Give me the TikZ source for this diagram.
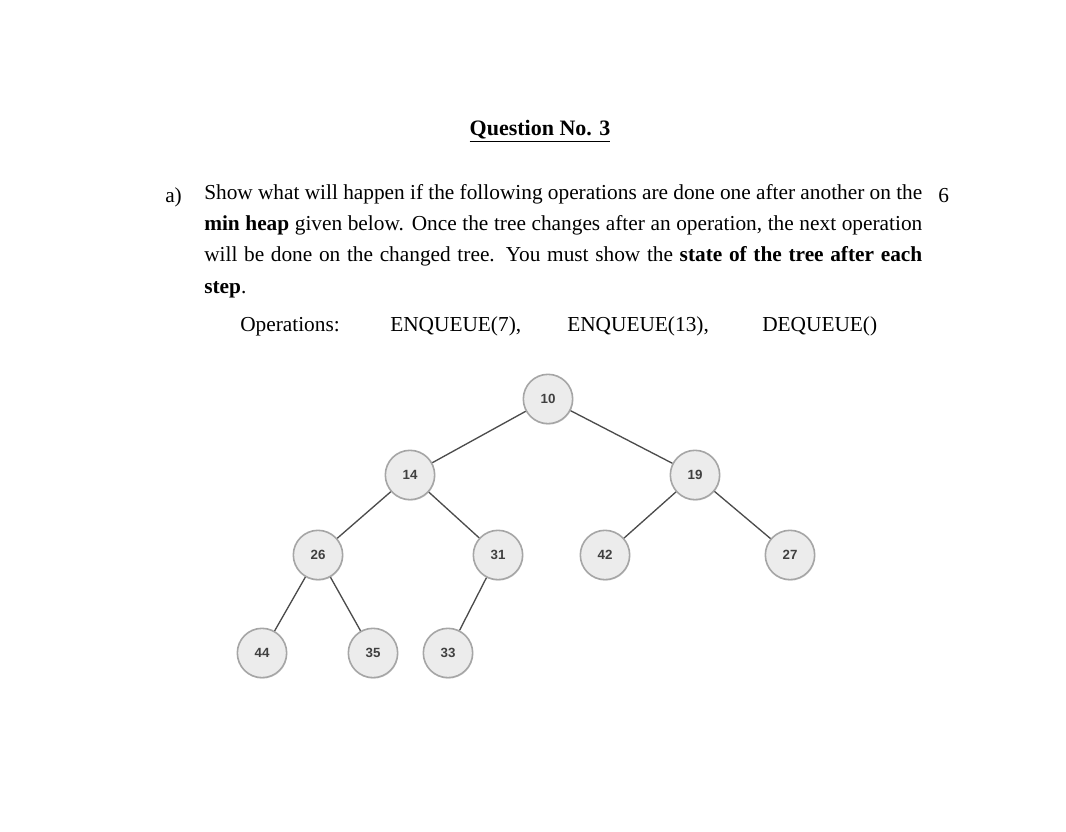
\documentclass[tikz,border=0pt]{standalone}
\usepackage{fontspec}
\setmainfont{Liberation Serif}
\newfontfamily\hsans{Liberation Sans}
\usetikzlibrary{shadows}
\begin{document}
\begin{tikzpicture}[x=0.75pt,y=-0.75pt,
  hn/.style={circle,draw=gray!70,line width=1.2pt,fill=gray!15,minimum size=37pt,inner sep=0pt,font=\hsans\bfseries\fontsize{10}{12}\selectfont,text=black!75,drop shadow={shadow xshift=0.4pt,shadow yshift=-0.8pt,opacity=0.25}},
  ed/.style={draw=black!70,line width=1pt},
  tx/.style={anchor=base west,inner sep=0pt,font=\fontsize{16}{23.5}\selectfont}]
\useasboundingbox (0,0) rectangle (1066,831);
\node[anchor=base,inner sep=0pt,font=\fontsize{16.5}{20}\selectfont\bfseries] (title) at (540,136) {\underline{Question No. 3}};
\node[tx] (a) at (165,202) {a)};
\node[tx,anchor=north west,text width=718*0.75pt,align=justify] (para) at (204,184) {Show what will happen if the following operations are done one after another on the \textbf{min heap} given below. Once the tree changes after an operation, the next operation will be done on the changed tree. You must show the \textbf{state of the tree after each step}.};
\node[tx] (mark) at (938,202) {6};
\node[tx] (op) at (240,331) {Operations:};
\node[tx] (e1) at (390,331) {ENQUEUE(7),};
\node[tx] (e2) at (567,331) {ENQUEUE(13),};
\node[tx] (d) at (762,331) {DEQUEUE()};
\node[hn] (n10) at (548,399) {10};
\node[hn] (n14) at (410,475) {14};
\node[hn] (n19) at (695,475) {19};
\node[hn] (n26) at (318,555) {26};
\node[hn] (n31) at (498,555) {31};
\node[hn] (n42) at (605,555) {42};
\node[hn] (n27) at (790,555) {27};
\node[hn] (n44) at (262,653) {44};
\node[hn] (n35) at (373,653) {35};
\node[hn] (n33) at (448,653) {33};
\begin{scope}[on background layer/.try]
\end{scope}
\draw[ed] (n10)--(n14); \draw[ed] (n10)--(n19);
\draw[ed] (n14)--(n26); \draw[ed] (n14)--(n31);
\draw[ed] (n19)--(n42); \draw[ed] (n19)--(n27);
\draw[ed] (n26)--(n44); \draw[ed] (n26)--(n35);
\draw[ed] (n31)--(n33);
\end{tikzpicture}
\end{document}
